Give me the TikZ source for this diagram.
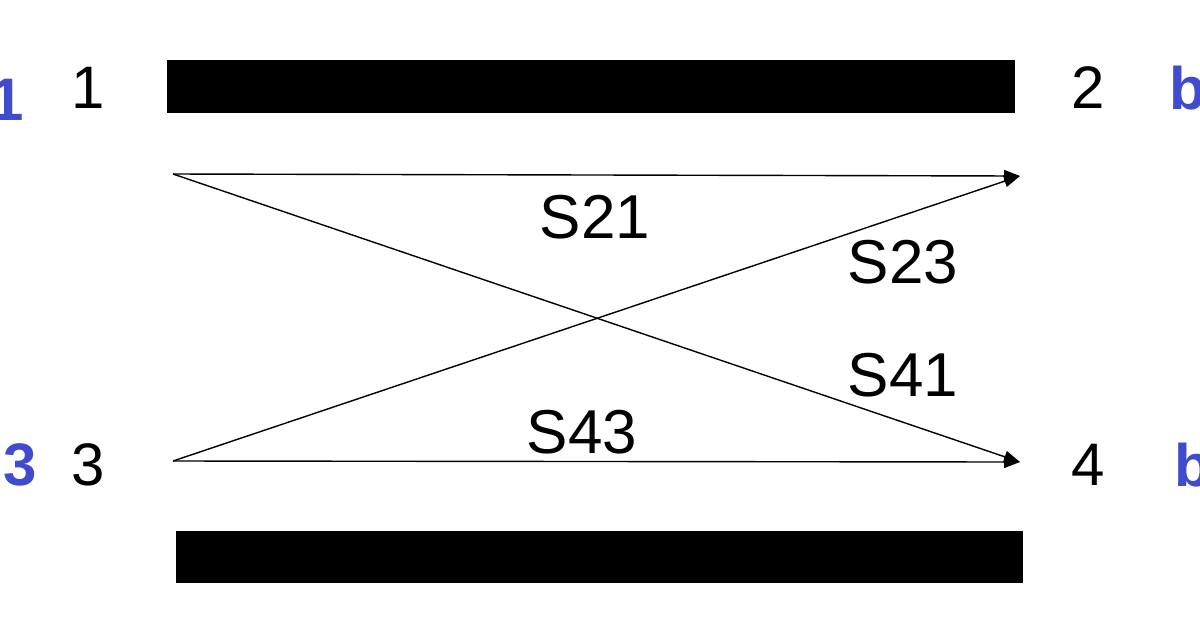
\documentclass[tikz,border=0pt]{standalone}
\usepackage{fontspec}
\setmainfont{Liberation Sans}
\usetikzlibrary{arrows.meta}
\definecolor{bl}{RGB}{65,75,205}
\begin{document}
\begin{tikzpicture}[x=0.5pt,y=-0.5pt,
  lbl/.style={font=\fontsize{30}{32}\selectfont, inner sep=0},
  sl/.style={font=\fontsize{31}{33}\selectfont, inner sep=0},
  bb/.style={font=\fontsize{30}{32}\selectfont\bfseries, text=bl, inner sep=0},
  arr/.style={-{Triangle[length=8pt,width=6pt]}, line width=0.7pt},
  bar/.style={fill=black}]
\useasboundingbox (0,0) rectangle (1200,618);
\clip (0,0) rectangle (1200,618);
\fill[bar] (167,60) rectangle (1015,113);
\fill[bar] (176,531) rectangle (1023,583);
\coordinate (p1) at (173,174);
\coordinate (p3) at (173,461);
\coordinate (p2) at (1020,176);
\coordinate (p4) at (1020,462);
\draw[arr] (p1) -- (p2);
\draw[arr] (p1) -- (p4);
\draw[arr] (p3) -- (p2);
\draw[arr] (p3) -- (p4);
\node[lbl] (n1) at (88,88) {1};
\node[lbl] (n2) at (1088,88) {2};
\node[lbl] (n3) at (88,465) {3};
\node[lbl] (n4) at (1088,465) {4};
\node[sl] (s21) at (595,217) {S21};
\node[sl] (s23) at (903,262) {S23};
\node[sl] (s41) at (903,375) {S41};
\node[sl] (s43) at (582,432) {S43};
\node[bb,anchor=east] (a1) at (24,100) {a\hspace{6pt}1};
\node[bb,anchor=east] (a3) at (37,465) {a\hspace{4pt}3};
\node[bb,anchor=west] (b2) at (1169,88) {b2};
\node[bb,anchor=west] (b4) at (1174,465) {b4};
\end{tikzpicture}
\end{document}
